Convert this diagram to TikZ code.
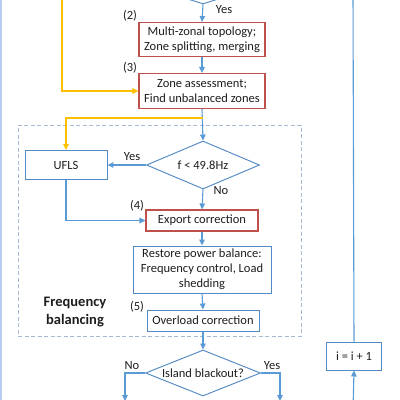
\documentclass[tikz,border=0pt]{standalone}
\usepackage{fontspec}
\setmainfont{Carlito}
\usetikzlibrary{shapes.geometric,arrows.meta}
\definecolor{lblue}{RGB}{91,155,213}
\definecolor{bblue}{RGB}{84,138,196}
\definecolor{bred}{RGB}{192,80,77}
\definecolor{byel}{RGB}{255,192,0}
\definecolor{dgray}{RGB}{165,185,210}
\definecolor{edgeblue}{RGB}{185,205,240}
\definecolor{txt}{RGB}{30,30,30}
\begin{document}
\begin{tikzpicture}[x=1pt,y=-1pt,
  every node/.style={font=\fontsize{12.5}{15}\selectfont, text=txt},
  rbox/.style={draw=bred, line width=1.15pt, fill=white, align=center, inner sep=0pt},
  bbox/.style={draw=bblue, line width=0.95pt, fill=white, align=center, inner sep=0pt},
  dia/.style={diamond, draw=bblue, line width=0.95pt, aspect=2.4, inner sep=0pt, fill=white},
  arr/.style={draw=lblue, line width=1.1pt, -{Triangle[width=5.5pt,length=6pt]}},
  yarr/.style={draw=byel, line width=1.3pt, -{Triangle[width=5.5pt,length=6pt]}},
  lab/.style={inner sep=0pt}
]
\useasboundingbox (0,0) rectangle (400,400);
\clip (0,0) rectangle (400,400);
\fill[white] (0,0) rectangle (400,400);
\draw[edgeblue, line width=2.5pt] (1,-5) -- (1,405);

% group
\node[draw=dgray, dash pattern=on 4pt off 2.5pt, line width=1pt, minimum width=283, minimum height=211, inner sep=0pt] (grp) at (159.5,230.5) {};
\node[lab, font=\fontsize{14.5}{18}\selectfont\bfseries, align=center] (fbl) at (75,312) {Frequency\\balancing};

% nodes
\node[dia, minimum width=114, minimum height=36] (d0) at (203,-14) {};
\node[rbox, minimum width=126, minimum height=34] (b2) at (202,39.5) {Multi-zonal topology;\\Zone splitting, merging};
\node[rbox, minimum width=126, minimum height=35] (b3) at (202,91) {Zone assessment;\\Find unbalanced zones};
\node[dia, minimum width=113, minimum height=48] (d1) at (203,165) {f < 49.8Hz};
\node[bbox, minimum width=82, minimum height=29] (ufls) at (66,165) {UFLS};
\node[rbox, minimum width=112, minimum height=21] (b4) at (202,220.5) {Export correction};
\node[bbox, minimum width=138, minimum height=47] (b5) at (202,269.5) {Restore power balance:\\Frequency control, Load\\shedding};
\node[bbox, minimum width=112, minimum height=21] (b6) at (203,320.5) {Overload correction};
\node[dia, minimum width=115, minimum height=46] (d2) at (203,373) {Island blackout?};
\node[bbox, minimum width=55, minimum height=28] (inc) at (354,356) {i = i + 1};

% step labels
\node[lab] (l2) at (130,16) {(2)};
\node[lab] (l3) at (130,68) {(3)};
\node[lab] (l4) at (137,206) {(4)};
\node[lab] (l5) at (137,307) {(5)};

% coordinates
\coordinate (ytop) at (62,-10);
\coordinate (ybr) at (203,118);
\coordinate (noend) at (125,401);
\coordinate (yesend) at (280,401);
\coordinate (ibot) at (353,410);
\coordinate (itop) at (353,-10);

% connectors
\draw[arr] (d0.south) -- (b2.north);
\node[lab] (y0) at (224,10) {Yes};
\draw[arr] (b2.south) -- (b3.north);
\draw[yarr] (ytop) |- (b3.west);
\draw[arr] (b3.south) -- (d1.north);
\draw[yarr] (ybr) -| (ufls.north);
\draw[arr] (d1.west) -- (ufls.east);
\node[lab] (y1) at (132,157) {Yes};
\draw[arr] (d1.south) -- (b4.north);
\node[lab] (n1) at (221,191) {No};
\draw[arr] (ufls.south) |- (b4.west);
\draw[arr] (b4.south) -- (b5.north);
\draw[arr] (b5.south) -- (b6.north);
\draw[arr] (b6.south) -- (d2.north);
\draw[arr] (d2.west) -| (noend);
\node[lab] (n2) at (132,366) {No};
\draw[arr] (d2.east) -| (yesend);
\node[lab] (y2) at (272,366) {Yes};
\draw[arr] (ibot) -- (inc.south);
\draw[draw=lblue, line width=1.1pt] (inc.north) -- (itop);
\end{tikzpicture}
\end{document}
